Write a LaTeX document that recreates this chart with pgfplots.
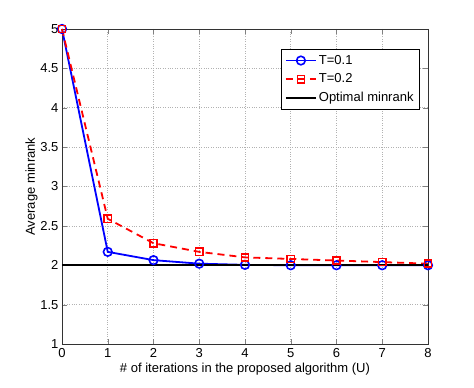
\documentclass[border=0pt]{standalone}
\usepackage{fontspec}
\setmainfont{Liberation Sans}
\usepackage{pgfplots}
\pgfplotsset{compat=1.18}
\begin{document}
\begin{tikzpicture}
\begin{axis}[
  at={(0,0)}, anchor=south west,
  scale only axis, width=366pt, height=315pt,
  xmin=0, xmax=8, ymin=1, ymax=5,
  xtick={0,...,8}, ytick={1,1.5,...,5},
  /pgf/number format/assume math mode=true,
  ticklabel style={font=\fontsize{13}{15}\selectfont},
  xticklabel style={yshift=-1pt},
  label style={font=\fontsize{13}{15}\selectfont},
  xlabel={\# of iterations in the proposed algorithm (U)},
  ylabel={Average minrank},
  xlabel style={yshift=2pt},
  ylabel style={yshift=-4pt},
  grid=major,
  major grid style={gray!60, dotted, line width=0.6pt},
  tick align=inside, tick pos=both,
  major tick length=5pt,
  axis line style={black!80, line width=0.8pt},
  legend style={at={(rel axis cs:0.978,0.937)}, anchor=north east,
    font=\fontsize{13}{15}\selectfont, draw=black, line width=0.8pt,
    row sep=4pt, inner xsep=4pt, inner ysep=4pt},
  legend image code/.code={\draw[mark repeat=2,mark phase=2] plot coordinates {(0pt,0pt) (15pt,0pt) (30pt,0pt)};},
  legend cell align=left,
  clip=false,
]
\addplot[blue, line width=1.8pt, mark=o, mark size=4.3pt, mark options={solid, line width=1.6pt}]
  coordinates {(0,5) (1,2.17) (2,2.065) (3,2.02) (4,2.005) (5,2.0) (6,2.0) (7,2.0) (8,2.0)};
\addlegendentry{T=0.1}
\addplot[red, line width=1.8pt, dash pattern=on 7pt off 5pt, mark=square, mark size=3.6pt, mark options={solid, line width=1.6pt}]
  coordinates {(0,5) (1,2.59) (2,2.28) (3,2.17) (4,2.10) (5,2.08) (6,2.06) (7,2.04) (8,2.02)};
\addlegendentry{T=0.2}
\addplot[black, line width=2pt] coordinates {(0,2) (8,2)};
\addlegendentry{Optimal minrank}
\end{axis}
\path[use as bounding box] (-62pt,-44pt) rectangle (412pt,344pt);
\end{tikzpicture}
\end{document}
